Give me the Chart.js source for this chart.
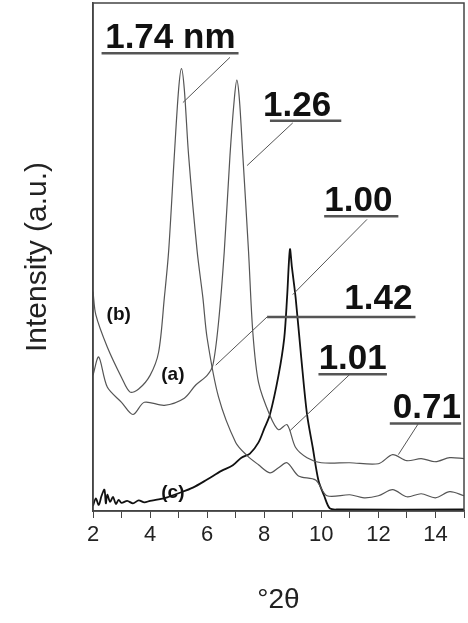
<!DOCTYPE html>
<html>
<head>
<meta charset="utf-8">
<script src="https://cdn.jsdelivr.net/npm/chart.js@4.4.0/dist/chart.umd.min.js"></script>
<style>
  html, body { margin: 0; padding: 0; background: #fff; }
</style>
</head>
<body>
<canvas id="xrd" width="468" height="623"></canvas>
<script>
// curve (b): two strong peaks
const curveB = [
  [2.0, 43.2], [2.1, 38.6], [2.5, 32.3], [3.0, 26.3], [3.3, 23.4], [3.6, 24.0],
  [4.0, 26.7], [4.3, 31.3], [4.5, 42], [4.65, 51.1], [4.85, 70], [5.0, 83],
  [5.1, 87.1], [5.2, 83], [5.35, 70], [5.65, 51.1], [5.85, 42], [6.0, 34],
  [6.4, 22.4], [7.0, 13.5], [7.4, 10.9], [7.8, 9.1], [8.2, 7.5], [8.5, 8.5],
  [8.8, 9.5], [9.2, 6.9], [9.8, 6.1], [10.2, 3.0], [11.0, 3.2], [11.5, 2.6],
  [12.0, 3.0], [12.5, 4.2], [13.0, 2.8], [13.5, 3.4], [14.0, 2.6], [14.5, 3.8], [15.0, 3.0]
];
// curve (a)
const curveA = [
  [2.0, 26.7], [2.2, 30.3], [2.5, 24.4], [3.0, 21.4], [3.4, 19.0], [3.8, 21.4],
  [4.5, 20.8], [5.2, 22.2], [5.6, 24.8], [6.0, 26.7], [6.2, 28.7], [6.4, 37.2],
  [6.6, 51.1], [6.8, 70], [6.95, 81], [7.04, 84.8], [7.13, 81], [7.25, 70],
  [7.45, 51.1], [7.6, 35.2], [7.8, 25.3], [8.2, 18.8], [8.5, 16.0], [8.8, 17.0],
  [9.1, 12.5], [9.5, 10.5], [10.0, 9.5], [11.0, 9.5], [12.0, 9.3], [12.5, 11.1],
  [13.0, 9.9], [13.5, 10.3], [14.0, 9.7], [14.5, 10.5], [15.0, 10.3]
];
// curve (c): noisy, single peak
const curveC = [
  [2.0, 1.0], [2.1, 2.5], [2.2, 1.2], [2.3, 3.0], [2.4, 4.2], [2.45, 1.5], [2.5, 3.2],
  [2.6, 1.8], [2.7, 2.8], [2.8, 1.4], [2.9, 2.2], [3.0, 1.6], [3.2, 2.0], [3.4, 1.5],
  [3.6, 2.1], [3.8, 1.7], [4.0, 2.0], [4.3, 2.3], [4.6, 2.7], [5.0, 3.5], [5.5, 4.6],
  [6.0, 6.2], [6.5, 7.9], [6.9, 9.0], [7.2, 10.5], [7.5, 11.3], [7.8, 13.5], [8.0, 16.2],
  [8.2, 19], [8.5, 26.7], [8.7, 34], [8.8, 42], [8.9, 51.5], [8.97, 48], [9.1, 42],
  [9.3, 30], [9.5, 19], [9.7, 12.5], [9.9, 6], [10.1, 3], [10.3, 0.5], [10.6, 0.3], [15.0, 0.3]
];
const xTicks = [2, 4, 6, 8, 10, 12, 14];

// d-spacing labels: text, text position, underline span, leader start -> end
const peakLabels = [
  { text: "1.74 nm", at: [4.71, 91.1], line: [2.3, 7.1, 90.1], lead: [6.8, 89.3, 5.15, 80.4] },
  { text: "1.26",    at: [9.15, 77.8], line: [8.2, 10.7, 76.8], lead: [9.0, 76.4, 7.4, 68] },
  { text: "1.00",    at: [11.3, 59],   line: [10.1, 12.7, 58], lead: [11.6, 57.4, 9.0, 42.6] },
  { text: "1.42",    at: [12.0, 39.8], line: [8.1, 13.3, 38.2], lead: [8.1, 38.2, 6.3, 28.7] },
  { text: "1.01",    at: [11.1, 27.9], line: [9.9, 12.3, 26.9], lead: [11.0, 26.9, 8.9, 15.8] },
  { text: "0.71",    at: [13.7, 18.4], line: [12.4, 14.9, 17.2], lead: [13.4, 17.2, 12.7, 11.1] }
];
const curveLabels = [
  { text: "(b)", at: [2.9, 37.6] },
  { text: "(a)", at: [4.8, 25.7] },
  { text: "(c)", at: [4.8, 2.6] }
];

const pts = arr => arr.map(p => ({ x: p[0], y: p[1] }));

const decor = {
  id: "decor",
  afterDatasetsDraw(chart) {
    const { ctx, chartArea: a, scales: { x, y } } = chart;
    ctx.save();
    ctx.strokeStyle = "#444";
    ctx.lineWidth = 1.5;
    ctx.strokeRect(a.left, a.top, a.right - a.left, a.bottom - a.top);
    ctx.fillStyle = "#111";
    ctx.textAlign = "center";
    ctx.textBaseline = "alphabetic";
    peakLabels.forEach(l => {
      ctx.font = "bold 35px 'Liberation Sans', Arial, sans-serif";
      ctx.fillText(l.text, x.getPixelForValue(l.at[0]), y.getPixelForValue(l.at[1]));
      ctx.strokeStyle = "#555";
      ctx.lineWidth = 2.5;
      ctx.beginPath();
      ctx.moveTo(x.getPixelForValue(l.line[0]), y.getPixelForValue(l.line[2]));
      ctx.lineTo(x.getPixelForValue(l.line[1]), y.getPixelForValue(l.line[2]));
      ctx.stroke();
      ctx.lineWidth = 1;
      ctx.beginPath();
      ctx.moveTo(x.getPixelForValue(l.lead[0]), y.getPixelForValue(l.lead[1]));
      ctx.lineTo(x.getPixelForValue(l.lead[2]), y.getPixelForValue(l.lead[3]));
      ctx.stroke();
    });
    ctx.font = "bold 19px 'Liberation Sans', Arial, sans-serif";
    curveLabels.forEach(l => {
      ctx.fillText(l.text, x.getPixelForValue(l.at[0]), y.getPixelForValue(l.at[1]));
    });
    ctx.restore();
  }
};

new Chart(document.getElementById("xrd"), {
  type: "line",
  plugins: [decor],
  data: {
    datasets: [
      { data: pts(curveB), borderColor: "#555", borderWidth: 1.2 },
      { data: pts(curveA), borderColor: "#555", borderWidth: 1.2 },
      { data: pts(curveC), borderColor: "#111", borderWidth: 1.8 }
    ]
  },
  options: {
    responsive: false,
    animation: false,
    layout: { padding: { top: 3, right: 4, left: 0, bottom: 0 } },
    elements: { point: { radius: 0 }, line: { tension: 0.3 } },
    plugins: { legend: { display: false }, tooltip: { enabled: false } },
    scales: {
      x: {
        type: "linear", min: 2, max: 15,
        ticks: {
          stepSize: 1, autoSkip: false, color: "#222", padding: 4,
          maxRotation: 0, minRotation: 0,
          font: { size: 22, family: "'Liberation Sans', Arial, sans-serif" },
          callback: v => xTicks.includes(v) ? v : ""
        },
        grid: { drawOnChartArea: false, tickLength: 7, color: "#444" },
        border: { color: "#444", width: 1.5 },
        title: {
          display: true, text: "°2θ", color: "#222", padding: { top: 0, bottom: 6 },
          font: { size: 28, family: "'Liberation Sans', Arial, sans-serif" }
        },
        afterFit: s => { s.height = 112; }
      },
      y: {
        min: 0, max: 100,
        ticks: { display: false },
        grid: { display: false },
        border: { color: "#444", width: 1.5 },
        title: {
          display: true, text: "Intensity (a.u.)", color: "#222", padding: { top: 20, bottom: 0 },
          font: { size: 30, family: "'Liberation Sans', Arial, sans-serif" }
        },
        afterFit: s => { s.width = 93; }
      }
    }
  }
});
</script>
</body>
</html>
